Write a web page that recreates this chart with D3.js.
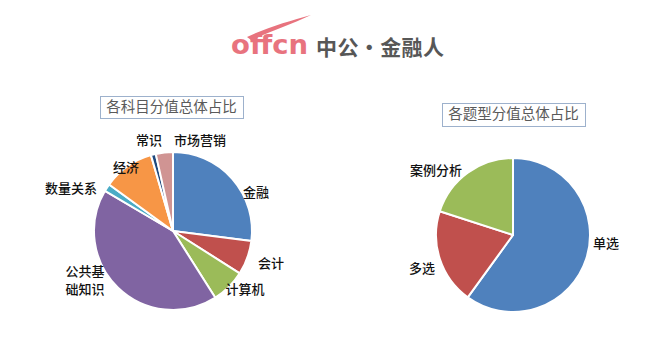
<!DOCTYPE html>
<html>
<head>
<meta charset="utf-8">
<script src="https://cdn.jsdelivr.net/npm/d3@7"></script>
<style>
  html, body { margin: 0; padding: 0; background: #fff; }
  svg { display: block; }
</style>
</head>
<body>
<svg id="chart" width="650" height="356"></svg>
<script>
// data (shares in %)
const subjects = ["金融", "会计", "计算机", "公共基础知识", "数量关系", "经济", "常识", "市场营销"];
const subjectShares = [27, 7, 7, 42.5, 1.5, 10.5, 1, 3.5];
const subjectColors = ["#4F81BD", "#C0504D", "#9BBB59", "#8064A2", "#4BACC6", "#F79646", "#1F497D", "#D09493"];

const types = ["单选", "多选", "案例分析"];
const typeShares = [60, 20, 20];
const typeColors = ["#4F81BD", "#C0504D", "#9BBB59"];

const titles = ["各科目分值总体占比", "各题型分值总体占比"];

// label anchors, offset from pie centre (px)
const subjectLabelPos = {
  "金融": [83, -39], "会计": [98, 32], "计算机": [72, 58], "公共基础知识": [-88, 50],
  "数量关系": [-102, -43], "经济": [-47, -64], "常识": [-24, -91], "市场营销": [27, -91]
};
const typeLabelPos = { "单选": [93, 8], "多选": [-91, 33], "案例分析": [-77, -65] };

const svg = d3.select("#chart");
const font = "'Noto Sans CJK SC', 'Noto Sans', sans-serif";

// ---- logo ----
const logo = svg.append("g");
logo.append("path")
    .attr("d", "M247,37 C268,27 290,21 311,15 C292,24 271,31 251,40 Z")
    .attr("fill", "#E8737E");
logo.append("text")
    .attr("x", 231).attr("y", 54)
    .attr("font-family", "'DejaVu Sans', sans-serif")
    .attr("font-weight", "bold")
    .attr("font-size", 27)
    .attr("textLength", 77)
    .attr("lengthAdjust", "spacingAndGlyphs")
    .attr("fill", "#E8737E")
    .text("offcn");
logo.append("text")
    .attr("x", 316).attr("y", 55)
    .attr("font-family", font)
    .attr("font-weight", "bold")
    .attr("font-size", 21)
    .attr("textLength", 128)
    .attr("fill", "#575757")
    .text("中公·金融人");

function drawPie(cx, cy, r, names, values, colors, labelPos, title, box) {
  const g = svg.append("g");

  // title box
  g.append("rect")
      .attr("x", box[0] + 0.5).attr("y", box[1] + 0.5)
      .attr("width", box[2]).attr("height", box[3])
      .attr("fill", "#fff")
      .attr("stroke", "#9DB1CC")
      .attr("stroke-width", 1);
  g.append("text")
      .attr("x", box[0] + box[2] / 2).attr("y", box[1] + box[3] / 2 + 1)
      .attr("text-anchor", "middle")
      .attr("dominant-baseline", "middle")
      .attr("font-family", font)
      .attr("font-size", 14.5)
      .attr("fill", "#5a5a5a")
      .text(title);

  const pie = d3.pie().sort(null).value(d => d.v);
  const arcs = pie(names.map((n, i) => ({ name: n, v: values[i], c: colors[i] })));
  const arc = d3.arc().innerRadius(0).outerRadius(r);

  const pg = g.append("g").attr("transform", `translate(${cx},${cy})`);
  pg.selectAll("path")
    .data(arcs)
    .join("path")
      .attr("d", arc)
      .attr("fill", d => d.data.c)
      .attr("stroke", "#fff")
      .attr("stroke-width", 2)
      .attr("stroke-linejoin", "round");

  const lbl = pg.selectAll("text.lbl")
    .data(arcs)
    .join("text")
      .attr("class", "lbl")
      .attr("x", d => labelPos[d.data.name][0])
      .attr("y", d => labelPos[d.data.name][1])
      .attr("text-anchor", "middle")
      .attr("font-family", font)
      .attr("font-size", 13)
      .attr("font-weight", 500)
      .attr("fill", "#111");

  lbl.each(function(d) {
    const t = d3.select(this);
    const name = d.data.name;
    if (name.length > 4) {
      // long label wraps onto two lines
      const lines = [name.slice(0, 3), name.slice(3)];
      lines.forEach((s, i) => {
        t.append("tspan")
          .attr("x", labelPos[name][0])
          .attr("dy", i === 0 ? "-0.35em" : "1.35em")
          .text(s);
      });
    } else {
      t.attr("dy", "0.35em").text(name);
    }
  });
}

drawPie(173, 231, 79, subjects, subjectShares, subjectColors, subjectLabelPos, titles[0], [100, 96, 143, 22]);
drawPie(513, 235, 77, types, typeShares, typeColors, typeLabelPos, titles[1], [442, 103, 143, 23]);
</script>
</body>
</html>
